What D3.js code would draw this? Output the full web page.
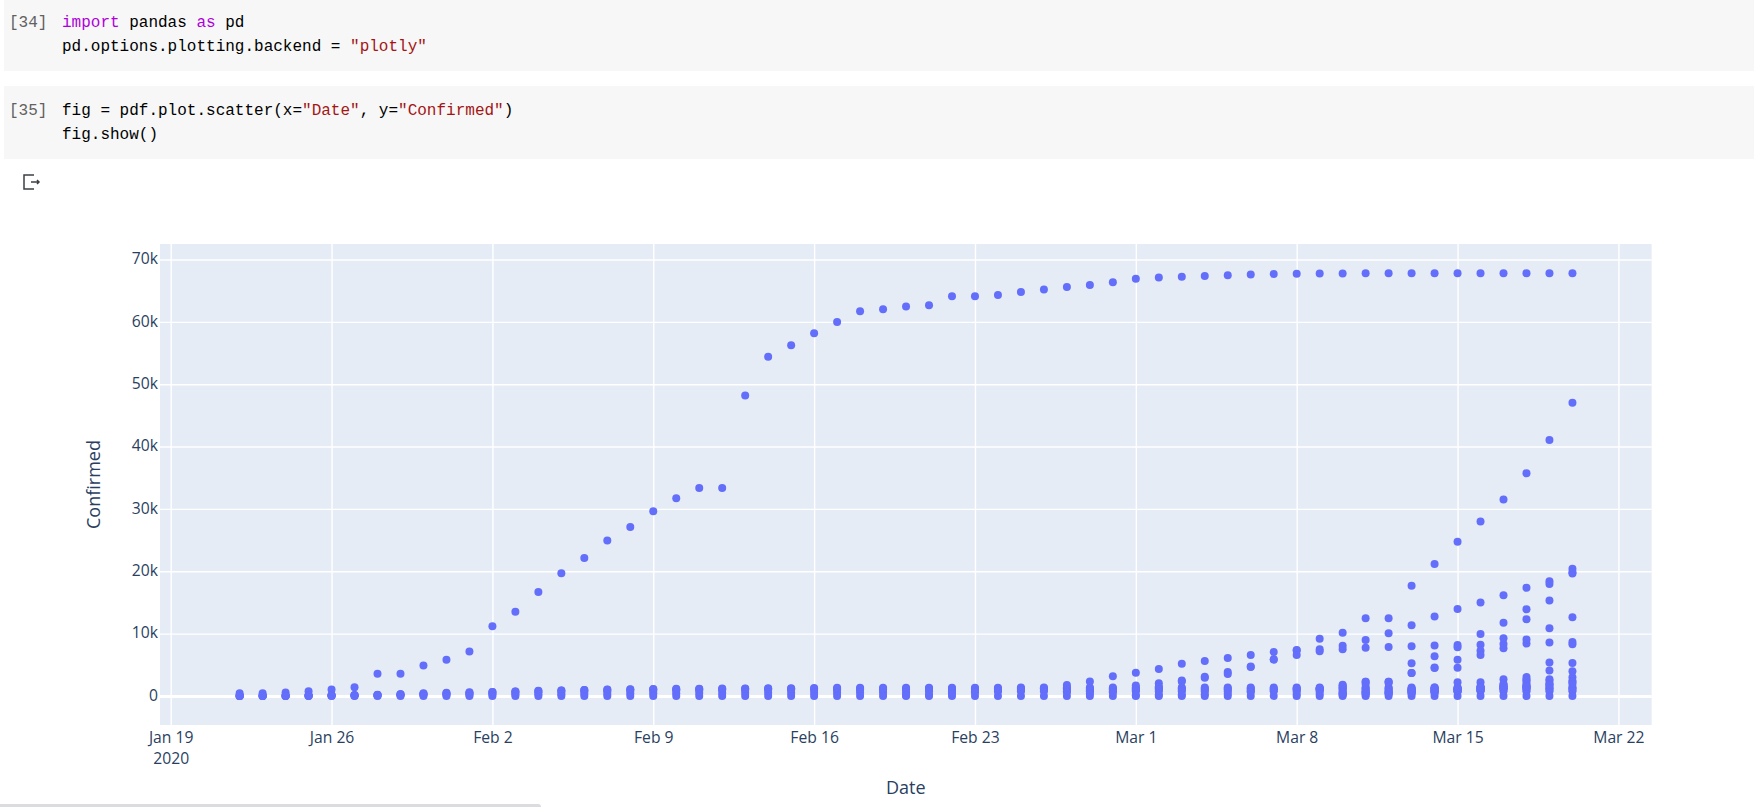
<!DOCTYPE html>
<html>
<head>
<meta charset="utf-8">
<title>pdf.plot.scatter</title>
<script src="https://cdn.jsdelivr.net/npm/d3@7"></script>
<style>
    html, body { margin: 0; padding: 0; background: white; overflow: hidden; }
    #page { position: relative; width: 1754px; height: 807px; }
    .cell { position: absolute; left: 4px; right: 0; background: #f7f7f7; }
    .prompt, .code {
        position: absolute;
        font-family: "Liberation Mono", "DejaVu Sans Mono", monospace;
        font-size: 16px;
        line-height: 24px;
        white-space: pre;
        margin: 0;
    }
    .prompt { left: 5px; color: #616161; }
    .code { left: 58px; color: #000; }
    .kw { color: #af00db; }
    .str { color: #a31515; }
    #scrollbar { position: absolute; left: 0; top: 804px; width: 541px; height: 3px; background: #dadce0; border-radius: 0 3px 0 0; }
    svg { position: absolute; left: 0; top: 0; }
    .tick text { font-family: "Open Sans", sans-serif; font-size: 15.7px; fill: #2a3f5f; }
    .axisTitle { font-family: "Open Sans", sans-serif; font-size: 18px; fill: #2a3f5f; }
</style>
</head>
<body>
<div id="page">
    <div class="cell" style="top:0;height:71px">
        <div class="prompt" style="top:11px">[34]</div>
        <div class="code" style="top:11px"><span class="kw">import</span> pandas <span class="kw">as</span> pd
pd.options.plotting.backend = <span class="str">"plotly"</span></div>
    </div>
    <div class="cell" style="top:86px;height:73px">
        <div class="prompt" style="top:13px">[35]</div>
        <div class="code" style="top:13px">fig = pdf.plot.scatter(x=<span class="str">"Date"</span>, y=<span class="str">"Confirmed"</span>)
fig.show()</div>
    </div>
    <div id="scrollbar"></div>
</div>
<script>
    // values, each list runs one day per entry from its start date
    const hubei = [444, 444, 549, 761, 1058, 1423, 3554, 3554, 4903, 5806, 7153, 11177, 13522, 16678, 19665, 22112, 24953, 27100, 29631, 31728, 33366, 33366, 48206, 54406, 56249, 58182, 59989, 61682, 62031, 62442, 62662, 64084, 64084, 64287, 64786, 65187, 65596, 65914, 66337, 66907, 67103, 67217, 67332, 67466, 67592, 67666, 67707, 67743, 67760, 67773, 67781, 67786, 67790, 67794, 67798, 67799, 67800, 67800, 67800];
    const guangdong = [26, 32, 53, 78, 111, 151, 207, 277, 354, 436, 535, 632, 725, 813, 895, 970, 1034, 1095, 1131, 1159, 1177, 1219, 1219, 1241, 1261, 1294, 1316, 1322, 1328, 1331, 1332, 1333, 1339, 1342, 1345, 1347, 1347, 1347, 1348, 1349, 1349, 1350, 1350, 1350, 1351, 1352, 1352, 1352, 1352, 1353, 1356, 1356, 1356, 1360, 1361, 1364, 1370, 1378, 1395];
    const zhejiang = [10, 27, 43, 62, 104, 128, 173, 296, 428, 538, 599, 661, 724, 829, 895, 954, 1006, 1048, 1075, 1092, 1117, 1131, 1145, 1155, 1162, 1167, 1171, 1172, 1174, 1175, 1203, 1205, 1205, 1205, 1205, 1205, 1205, 1205, 1206, 1213, 1213, 1215, 1215, 1215, 1215, 1215, 1215, 1215, 1215, 1215, 1215, 1215, 1227, 1231, 1232, 1232, 1233, 1234, 1236];
    const hunan = [4, 9, 24, 43, 69, 100, 143, 221, 277, 332, 389, 463, 521, 593, 661, 711, 772, 803, 838, 879, 912, 946, 968, 988, 1001, 1004, 1006, 1007, 1008, 1010, 1011, 1013, 1016, 1016, 1016, 1016, 1017, 1017, 1018, 1018, 1018, 1018, 1018, 1018, 1018, 1018, 1018, 1018, 1018, 1018, 1018, 1018, 1018, 1018, 1018, 1018, 1018, 1018, 1018];
    const shandong = [2, 6, 15, 27, 46, 75, 95, 130, 158, 184, 206, 225, 246, 270, 298, 343, 379, 407, 435, 459, 486, 497, 506, 519, 530, 537, 541, 543, 544, 546, 748, 750, 754, 755, 756, 756, 756, 756, 756, 758, 758, 758, 758, 758, 758, 758, 758, 758, 758, 758, 760, 760, 760, 760, 761, 761, 761, 761, 762];
    const tibet = [0, 0, 0, 0, 0, 0, 0, 0, 1, 1, 1, 1, 1, 1, 1, 1, 1, 1, 1, 1, 1, 1, 1, 1, 1, 1, 1, 1, 1, 1, 1, 1, 1, 1, 1, 1, 1, 1, 1, 1, 1, 1, 1, 1, 1, 1, 1, 1, 1, 1, 1, 1, 1, 1, 1, 1, 1, 1, 1];
    const korea = [104, 204, 433, 602, 833, 977, 1261, 1766, 2337, 3150, 3736, 4335, 5186, 5621, 6088, 6593, 7041, 7314, 7478, 7513, 7755, 7869, 7979, 8086, 8162, 8236, 8320, 8413, 8565, 8652];
    const italy = [655, 888, 1128, 1694, 2036, 2502, 3089, 3858, 4636, 5883, 7375, 9172, 10149, 12462, 12462, 17660, 21157, 24747, 27980, 31506, 35713, 41035, 47021];
    const iran = [388, 593, 978, 1501, 2336, 2922, 3513, 4747, 5823, 6566, 7161, 8042, 9000, 10075, 11364, 12729, 13938, 14991, 16169, 17361, 18407, 19644];
    const spain = [1073, 1695, 2277, 2277, 5232, 6391, 7798, 9942, 11748, 13910, 17963, 20410];
    const germany = [1176, 1457, 1908, 2078, 3675, 4585, 5795, 7272, 9257, 12327, 15320, 19848];
    const france = [130, 191, 204, 288, 380, 656, 957, 1134, 1217, 1792, 2289, 2289, 3672, 4480, 4513, 6592, 7652, 9043, 10871, 12612];
    const switzerland = [337, 374, 491, 652, 652, 1139, 1359, 2200, 2200, 2700, 3028, 4075, 5294];
    const newYork = [173, 220, 328, 421, 525, 732, 967, 1706, 2495, 5365, 8310];
    const britain = [373, 456, 456, 798, 1140, 1140, 1543, 1950, 2626, 2689, 3983];
    const netherlands = [382, 503, 503, 806, 962, 1135, 1413, 1705, 2051, 2460, 2994];
    const austria = [504, 655, 860, 1018, 1332, 1646, 2013, 2388];
    const belgium = [559, 689, 886, 1058, 1243, 1486, 1795, 2257];
    const norway = [996, 1090, 1221, 1333, 1463, 1550, 1746, 1914];

    const seriesTable = [
        ["2020-01-22", hubei], ["2020-01-22", guangdong], ["2020-01-22", zhejiang],
        ["2020-01-22", hunan], ["2020-01-22", shandong], ["2020-01-22", tibet],
        ["2020-02-20", korea], ["2020-02-27", italy], ["2020-02-28", iran],
        ["2020-03-09", spain], ["2020-03-09", germany], ["2020-03-01", france],
        ["2020-03-08", switzerland], ["2020-03-10", newYork], ["2020-03-10", britain],
        ["2020-03-10", netherlands], ["2020-03-13", austria], ["2020-03-13", belgium],
        ["2020-03-13", norway]
    ];
    const yTicks = [0, 10000, 20000, 30000, 40000, 50000, 60000, 70000];
    const xTicks = ["2020-01-19", "2020-01-26", "2020-02-02", "2020-02-09", "2020-02-16", "2020-02-23", "2020-03-01", "2020-03-08", "2020-03-15", "2020-03-22"];

    const parseDay = d3.utcParse("%Y-%m-%d");
    const points = seriesTable.flatMap(([start, values]) =>
        values.map((v, i) => ({date: d3.utcDay.offset(parseDay(start), i), value: v})));

    const plot = {left: 160, right: 1651.6, top: 244, bottom: 725};
    const x = d3.scaleUtc()
        .domain([new Date(Date.UTC(2020, 0, 18, 12, 50)), new Date(Date.UTC(2020, 2, 23, 10, 40))])
        .range([plot.left, plot.right]);
    const y = d3.scaleLinear().domain([-4650, 72480]).range([plot.bottom, plot.top]);

    const svg = d3.select("#page").append("svg").attr("width", 1754).attr("height", 807);

    svg.append("rect")
        .attr("x", plot.left).attr("y", plot.top)
        .attr("width", plot.right - plot.left).attr("height", plot.bottom - plot.top)
        .attr("fill", "#e5ecf6");

    const xAxis = svg.append("g")
        .attr("transform", "translate(0," + plot.bottom + ")")
        .call(d3.axisBottom(x)
            .tickValues(xTicks.map(parseDay))
            .tickFormat(d3.utcFormat("%b %-d"))
            .tickSize(-(plot.bottom - plot.top))
            .tickPadding(7));
    xAxis.select(".domain").remove();
    xAxis.selectAll("line").attr("stroke", "white").attr("stroke-width", 1.4);
    xAxis.select(".tick text").append("tspan").attr("x", 0).attr("dy", "1.3em").text("2020");

    const yAxis = svg.append("g")
        .attr("transform", "translate(" + plot.left + ",0)")
        .call(d3.axisLeft(y)
            .tickValues(yTicks)
            .tickFormat(d => d === 0 ? "0" : d / 1000 + "k")
            .tickSize(-(plot.right - plot.left))
            .tickPadding(2));
    yAxis.select(".domain").remove();
    yAxis.selectAll("line")
        .attr("stroke", "white")
        .attr("stroke-width", d => d === 0 ? 2.8 : 1.4);
    yAxis.selectAll("text").attr("dy", "0.27em");

    svg.append("g").selectAll("circle")
        .data(points)
        .enter().append("circle")
        .attr("cx", d => x(d.date))
        .attr("cy", d => y(d.value))
        .attr("r", 4)
        .attr("fill", "#636efa");

    svg.append("text")
        .attr("class", "axisTitle")
        .attr("text-anchor", "middle")
        .attr("x", (plot.left + plot.right) / 2)
        .attr("y", 794)
        .text("Date");
    svg.append("text")
        .attr("class", "axisTitle")
        .attr("text-anchor", "middle")
        .attr("transform", "translate(100," + (plot.top + plot.bottom) / 2 + ") rotate(-90)")
        .text("Confirmed");

    // output arrow icon left of the chart
    svg.append("path")
        .attr("d", "M34 175H24V189H34M31 182H39M37 180L39 182L37 184")
        .attr("fill", "none")
        .attr("stroke", "#3c4043")
        .attr("stroke-width", 1.5);
</script>
</body>
</html>
